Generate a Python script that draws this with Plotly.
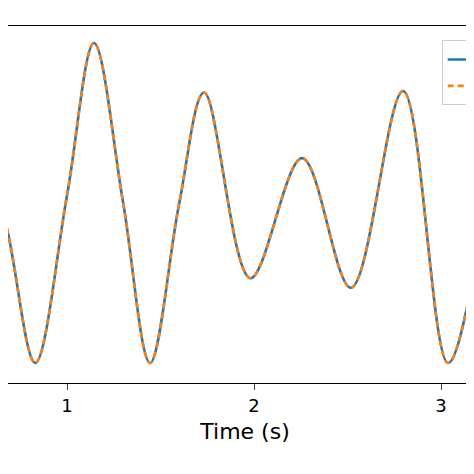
import plotly.graph_objects as go

# key points (time in s, normalised amplitude)
t_pts = [0.55, 0.684, 0.83, 1.0, 1.144, 1.30, 1.444, 1.60, 1.733, 1.98, 2.257, 2.518, 2.797, 3.037, 3.219, 3.35]
y_pts = [0.45, -0.19, -1.0, 0.05, 1.0, 0.0, -1.0, 0.0, 0.69, -0.47, 0.28, -0.53, 0.70, -1.0, -0.22, 0.4]

fig = go.Figure()
fig.add_trace(go.Scatter(x=t_pts, y=y_pts, mode="lines", name="Original",
                         line=dict(color="#1f77b4", width=2.6, shape="spline", smoothing=1.0)))
fig.add_trace(go.Scatter(x=t_pts, y=y_pts, mode="lines", name="Reconstructed",
                         line=dict(color="#ff7f0e", width=2.6, dash="6px,4px", shape="spline", smoothing=1.0)))

fig.update_layout(
    width=474, height=474,
    margin=dict(l=0, r=0, t=18, b=99, autoexpand=False),
    plot_bgcolor="white", paper_bgcolor="white",
    font=dict(family="DejaVu Sans", size=18, color="black"),
    legend=dict(x=0.915, y=0.96, xanchor="left", yanchor="top",
                bordercolor="#cccccc", borderwidth=1, bgcolor="white",
                tracegroupgap=10, font=dict(size=18)),
)
fig.update_xaxes(range=[0.684, 3.219], tickvals=[1, 2, 3], ticks="outside",
                 ticklen=6, showgrid=False, zeroline=False, showline=True,
                 linecolor="black", linewidth=1.2, mirror=True,
                 title=dict(text="Time (s)", standoff=8))
fig.update_yaxes(range=[-1.125, 1.106], showticklabels=False, showgrid=False,
                 zeroline=False, showline=False)

fig.write_html("out.html")
